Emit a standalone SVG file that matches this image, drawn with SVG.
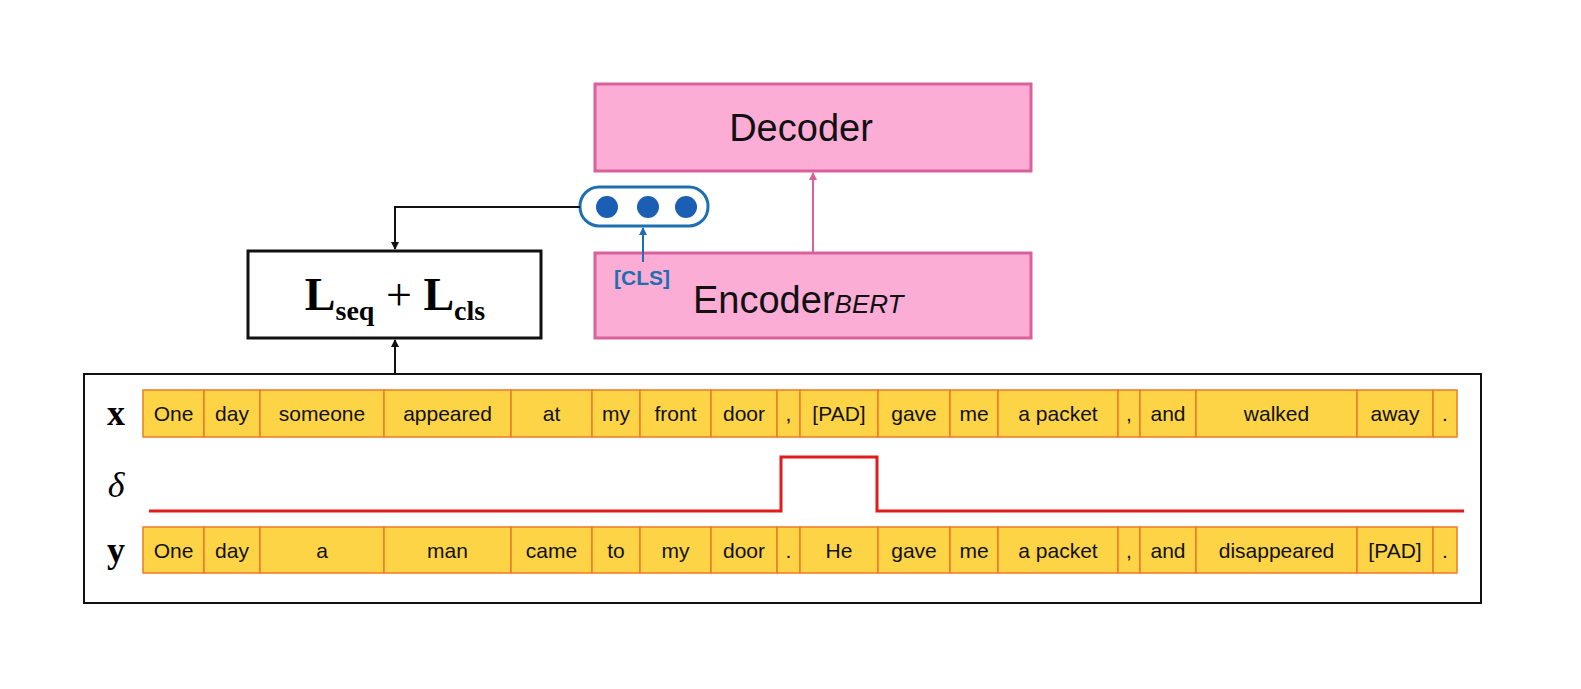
<svg xmlns="http://www.w3.org/2000/svg" width="1581" height="689" viewBox="0 0 1581 689">
<style>
.tok{fill:#fdd446;stroke:#ee7a2a;stroke-width:1.5}
.tt{font-family:"Liberation Sans",Arial,sans-serif;font-size:21px;text-anchor:middle;fill:#111}
.pink{fill:#fbadd6;stroke:#d9609a;stroke-width:3}
.lab{font-family:"Liberation Serif","Times New Roman",serif;font-size:36px;font-weight:bold;text-anchor:middle}
</style>
<defs>
<marker id="ak" markerWidth="8" markerHeight="8" refX="7" refY="4" orient="auto" markerUnits="userSpaceOnUse"><path d="M0,0L8,4L0,8z" fill="#111"/></marker>
<marker id="ab" markerWidth="8" markerHeight="8" refX="7" refY="4" orient="auto" markerUnits="userSpaceOnUse"><path d="M0,0L8,4L0,8z" fill="#1f6fb0"/></marker>
<marker id="ap" markerWidth="8" markerHeight="8" refX="7" refY="4" orient="auto" markerUnits="userSpaceOnUse"><path d="M0,0L8,4L0,8z" fill="#d9609a"/></marker>
</defs>
<rect width="1581" height="689" fill="#fff"/>
<g id="decoder"><rect class="pink" x="595" y="84" width="436" height="87"/><text x="801" y="141" font-family="Liberation Sans,Arial,sans-serif" font-size="38" text-anchor="middle" fill="#111">Decoder</text></g>
<g id="encoder"><rect class="pink" x="595" y="253" width="436" height="85"/>
<text x="642" y="285" font-family="Liberation Sans,Arial,sans-serif" font-size="21" font-weight="bold" text-anchor="middle" fill="#1f6fb0">[CLS]</text>
<text x="693" y="313" font-family="Liberation Sans,Arial,sans-serif" font-size="38" fill="#111">Encoder<tspan font-size="26" font-style="italic">BERT</tspan></text></g>
<g id="cls-vector"><rect x="580" y="187" width="128" height="39" rx="19" fill="#fff" stroke="#1f6fb0" stroke-width="3"/>
<circle cx="607" cy="207" r="11" fill="#1a5fb4"/><circle cx="648" cy="207" r="11" fill="#1a5fb4"/><circle cx="686" cy="207" r="11" fill="#1a5fb4"/></g>
<g id="loss"><rect x="248" y="251" width="293" height="87" fill="#fff" stroke="#111" stroke-width="3"/>
<text x="395" y="310" font-family="Liberation Serif,Times New Roman,serif" font-size="46" font-weight="bold" text-anchor="middle">L<tspan font-size="28" dy="10">seq</tspan><tspan dy="-10" font-weight="normal"> + </tspan>L<tspan font-size="28" dy="10">cls</tspan></text></g>
<g id="connectors" fill="none">
<path d="M580,207H395V249" stroke="#111" stroke-width="2" marker-end="url(#ak)"/>
<path d="M395,374V340" stroke="#111" stroke-width="2" marker-end="url(#ak)"/>
<path d="M643,262V228" stroke="#1f6fb0" stroke-width="2" marker-end="url(#ab)"/>
<path d="M813,253V173" stroke="#d9609a" stroke-width="2" marker-end="url(#ap)"/>
</g>
<g id="data">
<rect x="84" y="374" width="1397" height="229" fill="none" stroke="#111" stroke-width="2"/>
<text class="lab" x="116" y="425">x</text>
<text x="116" y="497" font-family="Liberation Serif,Times New Roman,serif" font-size="36" font-style="italic" text-anchor="middle">δ</text>
<text class="lab" x="116" y="562">y</text>
<path d="M149,511H781V457H877V511H1464" fill="none" stroke="#e01b1b" stroke-width="3"/>
<g id="x-row">
<rect class="tok" x="143" y="390" width="61" height="47"/><text class="tt" x="173.5" y="421">One</text>
<rect class="tok" x="204" y="390" width="56" height="47"/><text class="tt" x="232" y="421">day</text>
<rect class="tok" x="260" y="390" width="124" height="47"/><text class="tt" x="322" y="421">someone</text>
<rect class="tok" x="384" y="390" width="127" height="47"/><text class="tt" x="447.5" y="421">appeared</text>
<rect class="tok" x="511" y="390" width="81" height="47"/><text class="tt" x="551.5" y="421">at</text>
<rect class="tok" x="592" y="390" width="48" height="47"/><text class="tt" x="616" y="421">my</text>
<rect class="tok" x="640" y="390" width="71" height="47"/><text class="tt" x="675.5" y="421">front</text>
<rect class="tok" x="711" y="390" width="66" height="47"/><text class="tt" x="744" y="421">door</text>
<rect class="tok" x="777" y="390" width="23" height="47"/><text class="tt" x="788.5" y="421">,</text>
<rect class="tok" x="800" y="390" width="78" height="47"/><text class="tt" x="839" y="421">[PAD]</text>
<rect class="tok" x="878" y="390" width="72" height="47"/><text class="tt" x="914" y="421">gave</text>
<rect class="tok" x="950" y="390" width="48" height="47"/><text class="tt" x="974" y="421">me</text>
<rect class="tok" x="998" y="390" width="120" height="47"/><text class="tt" x="1058" y="421">a packet</text>
<rect class="tok" x="1118" y="390" width="22" height="47"/><text class="tt" x="1129" y="421">,</text>
<rect class="tok" x="1140" y="390" width="56" height="47"/><text class="tt" x="1168" y="421">and</text>
<rect class="tok" x="1196" y="390" width="161" height="47"/><text class="tt" x="1276.5" y="421">walked</text>
<rect class="tok" x="1357" y="390" width="76" height="47"/><text class="tt" x="1395" y="421">away</text>
<rect class="tok" x="1433" y="390" width="24" height="47"/><text class="tt" x="1445" y="421">.</text>
</g>
<g id="y-row">
<rect class="tok" x="143" y="527" width="61" height="46"/><text class="tt" x="173.5" y="558">One</text>
<rect class="tok" x="204" y="527" width="56" height="46"/><text class="tt" x="232" y="558">day</text>
<rect class="tok" x="260" y="527" width="124" height="46"/><text class="tt" x="322" y="558">a</text>
<rect class="tok" x="384" y="527" width="127" height="46"/><text class="tt" x="447.5" y="558">man</text>
<rect class="tok" x="511" y="527" width="81" height="46"/><text class="tt" x="551.5" y="558">came</text>
<rect class="tok" x="592" y="527" width="48" height="46"/><text class="tt" x="616" y="558">to</text>
<rect class="tok" x="640" y="527" width="71" height="46"/><text class="tt" x="675.5" y="558">my</text>
<rect class="tok" x="711" y="527" width="66" height="46"/><text class="tt" x="744" y="558">door</text>
<rect class="tok" x="777" y="527" width="23" height="46"/><text class="tt" x="788.5" y="558">.</text>
<rect class="tok" x="800" y="527" width="78" height="46"/><text class="tt" x="839" y="558">He</text>
<rect class="tok" x="878" y="527" width="72" height="46"/><text class="tt" x="914" y="558">gave</text>
<rect class="tok" x="950" y="527" width="48" height="46"/><text class="tt" x="974" y="558">me</text>
<rect class="tok" x="998" y="527" width="120" height="46"/><text class="tt" x="1058" y="558">a packet</text>
<rect class="tok" x="1118" y="527" width="22" height="46"/><text class="tt" x="1129" y="558">,</text>
<rect class="tok" x="1140" y="527" width="56" height="46"/><text class="tt" x="1168" y="558">and</text>
<rect class="tok" x="1196" y="527" width="161" height="46"/><text class="tt" x="1276.5" y="558">disappeared</text>
<rect class="tok" x="1357" y="527" width="76" height="46"/><text class="tt" x="1395" y="558">[PAD]</text>
<rect class="tok" x="1433" y="527" width="24" height="46"/><text class="tt" x="1445" y="558">.</text>
</g>
</g>
</svg>
